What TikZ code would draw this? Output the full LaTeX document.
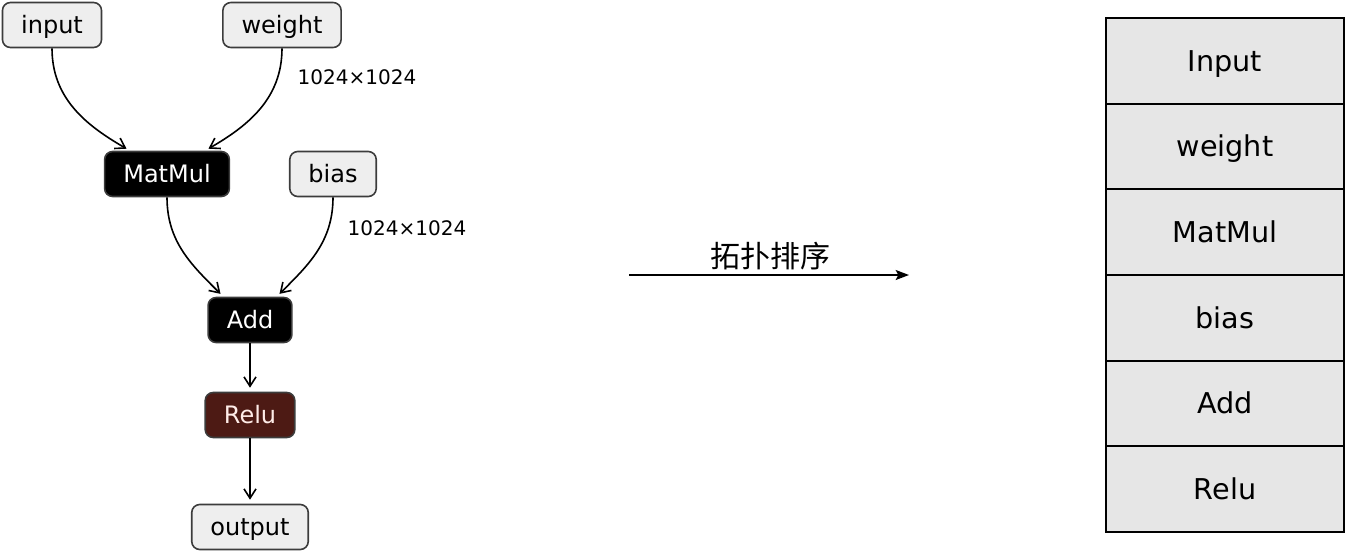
\documentclass[tikz,border=0pt]{standalone}
\usepackage{fontspec}
\setmainfont{DejaVu Sans}
\newfontfamily\cjk{Noto Sans CJK SC}
\usetikzlibrary{arrows.meta}

\definecolor{boxgray}{RGB}{238,238,238}
\definecolor{cellgray}{RGB}{230,230,230}
\definecolor{edgegray}{RGB}{60,60,60}
\definecolor{relubrown}{RGB}{77,26,20}

\tikzset{every picture/.style={line width=0.75pt}}
\tikzset{
  tensor/.style={draw=edgegray, fill=boxgray, rounded corners=6pt, line width=1.2pt,
    minimum height=33.75pt, inner xsep=14pt, text height=13.1pt, text depth=0pt,
    font=\fontsize{18}{20}\selectfont},
  op/.style={tensor, fill=black, text=white},
  flow/.style={-{Straight Barb[length=7pt,width=9pt]}, line width=1.2pt, shorten >=3pt},
  cell/.style={draw, fill=cellgray, line width=1.5pt, minimum width=178.5pt,
    minimum height=64.25pt, text height=15.7pt, text depth=0pt,
    font=\fontsize{21.5}{24}\selectfont},
}

\begin{document}
\begin{tikzpicture}[x=0.75pt,y=0.75pt,yscale=-1,xscale=1]
\useasboundingbox (0,0) rectangle (1346,551);

%Graph nodes
\node[tensor] (input) at (52,25) {input};
\node[tensor] (weight) at (282,25) {weight};
\node[op] (matmul) at (167,174) {MatMul};
\node[tensor] (bias) at (333,174) {bias};
\node[op] (add) at (250,320) {Add};
\node[op, fill=relubrown, text={rgb,255:red,255;green,236;blue,232}] (relu) at (250,415) {Relu};
\node[tensor] (output) at (250,527) {output};

%Shape labels
\node[font=\fontsize{15}{17}\selectfont] (wshape) at (357,77) {1024×1024};
\node[font=\fontsize{15}{17}\selectfont] (bshape) at (407,228) {1024×1024};

%Edges (angles mirrored because of yscale=-1)
\draw[flow] (input.south) to[out=90,in=-150] ([xshift=-27.75pt]matmul.north);
\draw[flow] (weight.south) to[out=90,in=-30] ([xshift=28.5pt]matmul.north);
\draw[flow] (matmul.south) to[out=90,in=-135] ([xshift=-20pt]add.north);
\draw[flow] (bias.south) to[out=90,in=-45] ([xshift=20pt]add.north);
\draw[flow] (add) -- (relu);
\draw[flow] (relu) -- (output);

%Topological sort arrow
\coordinate (sortstart) at (629,275);
\coordinate (sortend) at (909,275);
\draw[-{Stealth[length=10pt,width=7.5pt,inset=2pt]}, line width=1.2pt] (sortstart) -- (sortend);
\node[font=\cjk\fontsize{22.5}{24}\selectfont] (sortlabel) at (770,256) {拓扑排序};

%Sorted list
\foreach \name [count=\i] in {Input,weight,MatMul,bias,Add,Relu}
  \node[cell] (cell\i) at (1225,{18+85.67*(\i-0.5)}) {\name};

\end{tikzpicture}
\end{document}
